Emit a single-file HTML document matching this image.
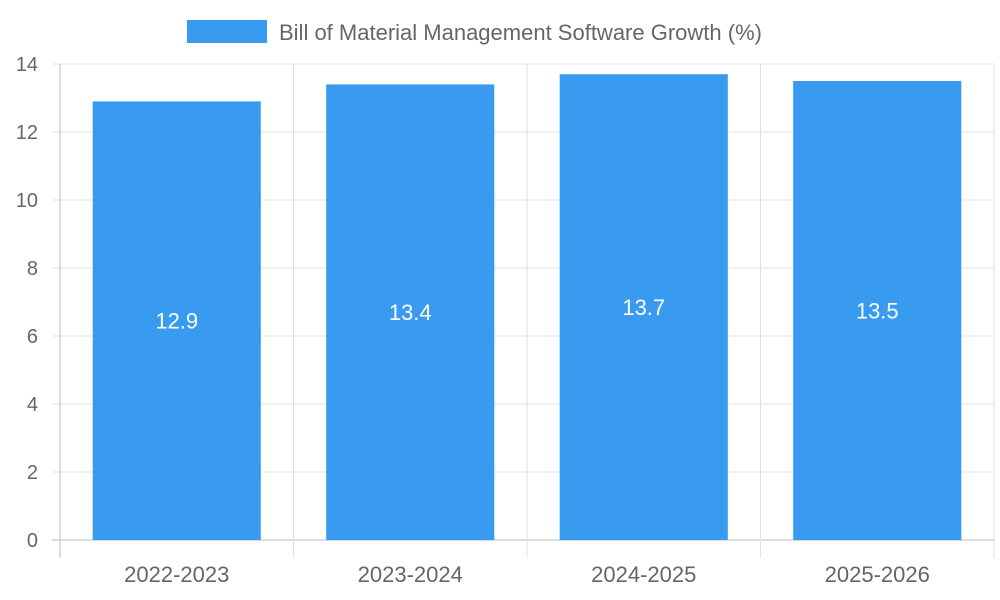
<!DOCTYPE html>
<html><head><meta charset="utf-8"><style>
body{margin:0;background:#fff;}
svg{display:block;font-family:"Liberation Sans",sans-serif;}
</style></head><body>
<svg id="chart" width="1000" height="600">
<g id="legend">
<rect x="187" y="20" width="80" height="23" fill="#389bf0"/>
<text x="279" y="40" font-size="22" fill="#666">Bill of Material Management Software Growth (%)</text>
</g>
<g id="grid"></g>
<g id="bars"></g>
<g id="axes"></g>
</svg>
<script>
const categories=["2022-2023","2023-2024","2024-2025","2025-2026"];
const values=[12.9,13.4,13.7,13.5];
const yTicks=[0,2,4,6,8,10,12,14];
const NS="http://www.w3.org/2000/svg";
const L=60,R=994,T=64,B=540,yMax=14;
const y=v=>B-(v/yMax)*(B-T);
const bw=(R-L)/categories.length;
const x=i=>L+bw*i;
function mk(tag,attrs,parent,text){const e=document.createElementNS(NS,tag);for(const k in attrs)e.setAttribute(k,attrs[k]);if(text!==undefined)e.textContent=text;parent.appendChild(e);return e;}
const grid=document.getElementById('grid'),bars=document.getElementById('bars'),axes=document.getElementById('axes');
yTicks.forEach(t=>{
 const l=mk('line',{x1:L-8,x2:R,y1:y(t),y2:y(t),stroke:t===0?'#bbb':'#e0e0e0','stroke-width':1},grid);
 
 
 const tx=mk('text',{x:38,y:y(t)+7,'font-size':20,fill:'#666','text-anchor':'end'},axes,String(t));
 
 
});
for(let i=0;i<=categories.length;i++){
 const l=mk('line',{x1:x(i),x2:x(i),y1:T,y2:B+18,stroke:i===0?'#bbb':'#e0e0e0','stroke-width':1},grid);
 
 
}
categories.forEach((c,i)=>{
 const w=bw*0.72,bx=x(i)+(bw-w)/2;
 const r=mk('rect',{x:bx,y:y(values[i]),width:w,height:B-y(values[i]),fill:'#389bf0'},bars);
 
 
 const v=mk('text',{x:x(i)+bw/2,y:(y(values[i])+B)/2+8,'font-size':22,fill:'#fff','text-anchor':'middle'},bars,String(values[i]));
 
 
 const t=mk('text',{x:x(i)+bw/2,y:582,'font-size':22,fill:'#666','text-anchor':'middle'},axes,c);
 
 
});
</script>
</body></html>
